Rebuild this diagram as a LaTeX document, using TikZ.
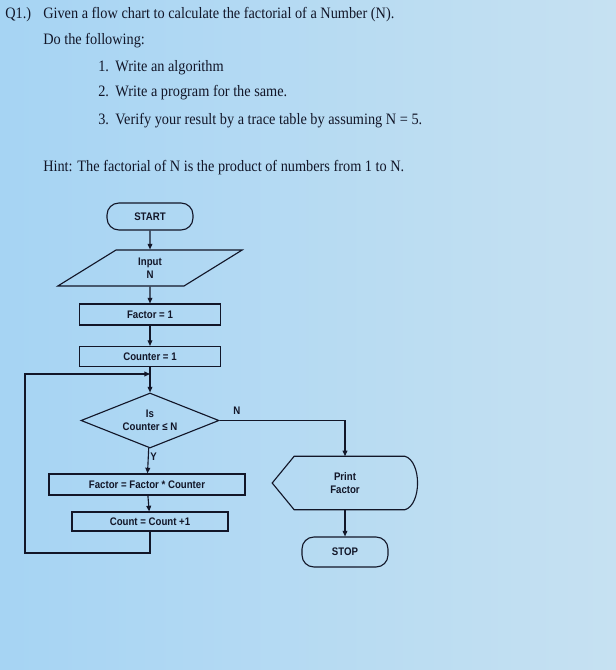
\documentclass[tikz,border=0pt]{standalone}
\usepackage{fontspec}
\setmainfont{Liberation Serif}[FakeStretch=0.9]
\newfontfamily\chartfont{Liberation Sans}[FakeStretch=0.88]
\usepackage{xcolor}
\usetikzlibrary{calc, arrows.meta, shapes.geometric}
\definecolor{paperL}{RGB}{166,212,243}
\definecolor{paperR}{RGB}{198,225,242}
\definecolor{ink}{RGB}{18,22,40}

\begin{document}
\begin{tikzpicture}[x=0.025cm, y=-0.025cm, >={Triangle[length=4pt,width=3.4pt]},
  font=\chartfont\bfseries\fontsize{7.8}{9}\selectfont,
  hdr/.style={anchor=base west, inner sep=0pt, text=ink, font=\fontsize{11.3}{13}\selectfont},
  box/.style={draw=ink, line width=0.8pt, rectangle, inner sep=0pt, text=ink, align=center},
  terminal/.style={box, rounded corners=8.5pt, minimum width=2.15cm},
  flow/.style={->, draw=ink, line width=0.8pt},
  lbl/.style={text=ink, inner sep=1pt}]

  % paper background (fixes the bounding box too)
  \shade[left color=paperL, right color=paperR] (0,0) rectangle (616,670);

  % --- Question text ---
  \node[hdr] (qno) at (5,19) {Q1.)};
  \node[hdr] (given) at (43,19) {Given a flow chart to calculate the factorial of a Number (N).};
  \node[hdr] (todo) at (43,45) {Do the following:};
  \foreach \n/\txt/\y in {1/Write an algorithm/71, 2/Write a program for the same./97,
                          3/Verify your result by a trace table by assuming N = 5./124}
    \node[hdr] (item\n) at (98,\y) {\makebox[0.43cm][l]{\n.}\txt};
  \node[hdr] (hint) at (43,171) {Hint: The factorial of N is the product of numbers from 1 to N.};

  % --- Flow chart nodes ---
  \node[terminal, minimum height=0.675cm] (start) at (150,216.5) {START};
  \node[box, trapezium, trapezium left angle=45, trapezium right angle=135,
        trapezium stretches=true, minimum width=4.625cm, minimum height=0.9cm] (input) at (150,268) {Input\\N};
  \node[box, minimum width=3.525cm, minimum height=0.525cm] (fact1) at (150,314.5) {Factor = 1};
  \node[box, minimum width=3.525cm, minimum height=0.5cm] (count1) at (150,356.5) {Counter = 1};
  \node[box, diamond, aspect=2.5, minimum width=3.45cm, minimum height=1.375cm] (test) at (150,420.5) {Is\\Counter ≤ N};
  \node[box, minimum width=4.9cm, minimum height=0.525cm] (prod) at (147,484.5) {Factor = Factor * Counter};
  \node[box, minimum width=3.9cm, minimum height=0.475cm] (incr) at (150,521.5) {Count = Count +1};

  % Print (display symbol)
  \node[text=ink, align=center, minimum width=3.625cm, minimum height=1.325cm, inner sep=0pt] (print) at (345,483) {Print\\Factor};
  \draw[ink, line width=0.8pt] (print.west) -- ($(print.north west)+(22,0)$) -- ($(print.north east)+(-13,0)$)
    .. controls +(17,5) and +(17,-5) .. ($(print.south east)+(-13,0)$) -- ($(print.south west)+(22,0)$) -- cycle;
  \node[terminal, minimum height=0.75cm] (stop) at (345,552) {STOP};

  % --- Connectors ---
  \draw[flow] (start) -- (input);
  \draw[flow] (input) -- (fact1);
  \draw[flow] (fact1) -- (count1);
  \draw[flow] (count1) -- (test);
  \draw[flow] (test) -- node[lbl, right, pos=0.35] {Y} (prod);
  \draw[flow] (prod) -- (incr);
  \draw[flow] (test.east) -| node[lbl, pos=0.03, above right=3pt] {N} (print.north);
  \draw[flow] (print) -- (stop);

  % loop back
  \coordinate (loopend) at (25,553);
  \coordinate (join) at (150,374);
  \draw[flow] (incr.south) |- (loopend) |- (join);
\end{tikzpicture}
\end{document}
